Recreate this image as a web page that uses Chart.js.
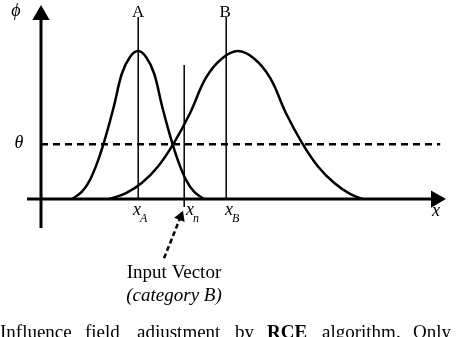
<!DOCTYPE html>
<html>
<head>
<meta charset="utf-8">
<style>
html, body { margin: 0; padding: 0; background: #fff; }
#wrap { width: 474px; height: 337px; }
</style>
</head>
<body>
<div id="wrap"><canvas id="fig"></canvas></div>
<script src="https://cdn.jsdelivr.net/npm/chart.js@4/dist/chart.umd.min.js"></script>
<script>
// influence field of category A (narrow)
const curveA_x = [0.775, 1.025, 1.225, 1.425, 1.625, 1.825, 2.025, 2.225, 2.425, 2.625, 2.825, 3.025, 3.225, 3.425, 3.625, 3.825, 4.075];
const curveA_y = [0, 0.05, 0.13, 0.26, 0.43, 0.63, 0.85, 0.96, 1.0, 0.96, 0.85, 0.63, 0.43, 0.26, 0.13, 0.05, 0];
// influence field of category B (wide)
const curveB_x = [1.7, 2.125, 2.525, 2.925, 3.325, 3.725, 4.125, 4.525, 4.925, 5.325, 5.725, 6.125, 6.525, 6.925, 7.325, 7.725, 8.05];
const curveB_y = [0, 0.04, 0.11, 0.22, 0.38, 0.58, 0.82, 0.95, 1.0, 0.95, 0.82, 0.58, 0.38, 0.22, 0.11, 0.035, 0];
// centres and input vector
const centreA = 2.43;
const centreB = 4.63;
const inputX = 3.58;
const theta = 0.37;
// axes extents
const xAxisFrom = -0.35, xAxisTo = 9.875;
const yAxisFrom = -0.196, yAxisTo = 1.243;
const centreTop = 1.23;
const inputTop = 0.905, inputBottom = -0.054;
const thetaEnd = 9.98;
// dashed pointer from the caption to x_n
const pointer_x = [3.075, 3.49];
const pointer_y = [-0.40, -0.12];

function pts(xs, ys) { return xs.map((x, i) => ({ x: x, y: ys[i] })); }

const textPlugin = {
  id: 'texts',
  afterDatasetsDraw(chart) {
    const c = chart.ctx, sx = chart.scales.x, sy = chart.scales.y;
    const X = v => sx.getPixelForValue(v), Y = v => sy.getPixelForValue(v);
    c.save();
    c.fillStyle = '#000';
    c.textAlign = 'center';
    c.textBaseline = 'middle';
    c.font = '17px "Liberation Serif"';
    c.fillText('A', X(centreA), 13);
    c.fillText('B', X(centreB) - 1, 13);
    c.font = 'italic 18px "Liberation Serif"';
    c.fillText('\u03d5', 16, 11);
    c.fillText('\u03b8', 19, Y(theta) - 1);
    c.fillText('x', 436, 211);
    // tick labels with subscripts
    c.textAlign = 'left';
    c.textBaseline = 'alphabetic';
    const sub = (x, s) => {
      c.font = 'italic 18px "Liberation Serif"';
      c.fillText('x', x, 215);
      const w = c.measureText('x').width;
      c.font = 'italic 12px "Liberation Serif"';
      c.fillText(s, x + w - 1, 222);
    };
    sub(133, 'A');
    sub(186, 'n');
    sub(225, 'B');
    c.textAlign = 'center';
    c.font = '19px "Liberation Serif"';
    c.fillText('Input Vector', 174, 278);
    c.font = 'italic 19px "Liberation Serif"';
    c.fillText('(category B)', 174, 301);
    // caption, cut off at the bottom edge
    c.textAlign = 'left';
    const words = [['Influence', 0], ['field', 85], ['adjustment', 137], ['by', 235], ['RCE', 267, true], ['algorithm.', 322], ['Only', 413]];
    words.forEach(w => {
      c.font = (w[2] ? 'bold ' : '') + '19px "Liberation Serif"';
      c.fillText(w[0], w[1], 338);
    });
    c.restore();
  }
};

const line = (data, extra) => Object.assign({
  data: data, borderColor: '#000', backgroundColor: '#000',
  borderWidth: 1.5, pointRadius: 0, showLine: true, fill: false
}, extra);

new Chart(document.getElementById('fig'), {
  type: 'scatter',
  data: {
    datasets: [
      line(pts(curveA_x, curveA_y), { borderWidth: 2.5, tension: 0.4 }),
      line(pts(curveB_x, curveB_y), { borderWidth: 2.5, tension: 0.4 }),
      line([{ x: 0, y: theta }, { x: thetaEnd, y: theta }], { borderWidth: 2.5, borderDash: [7, 5] }),
      line([{ x: centreA, y: 0 }, { x: centreA, y: centreTop }]),
      line([{ x: centreB, y: 0 }, { x: centreB, y: centreTop }]),
      line([{ x: inputX, y: inputBottom }, { x: inputX, y: inputTop }]),
      line([{ x: xAxisFrom, y: 0 }, { x: xAxisTo, y: 0 }], {
        borderWidth: 3, pointStyle: 'triangle', pointRadius: [0, 7], rotation: 90
      }),
      line([{ x: 0, y: yAxisFrom }, { x: 0, y: yAxisTo }], {
        borderWidth: 3, pointStyle: 'triangle', pointRadius: [0, 7], rotation: 0
      }),
      line(pts(pointer_x, pointer_y), {
        borderWidth: 2.5, borderDash: [5, 3], pointStyle: 'triangle', pointRadius: [0, 4], rotation: 22
      })
    ]
  },
  options: {
    responsive: true,
    maintainAspectRatio: false,
    animation: false,
    layout: { padding: 0, autoPadding: false },
    plugins: { legend: { display: false }, tooltip: { enabled: false } },
    scales: {
      x: { type: 'linear', min: -1.025, max: 10.825, display: false },
      y: { type: 'linear', min: -0.932, max: 1.345, display: false }
    }
  },
  plugins: [textPlugin]
});
</script>
</body>
</html>
